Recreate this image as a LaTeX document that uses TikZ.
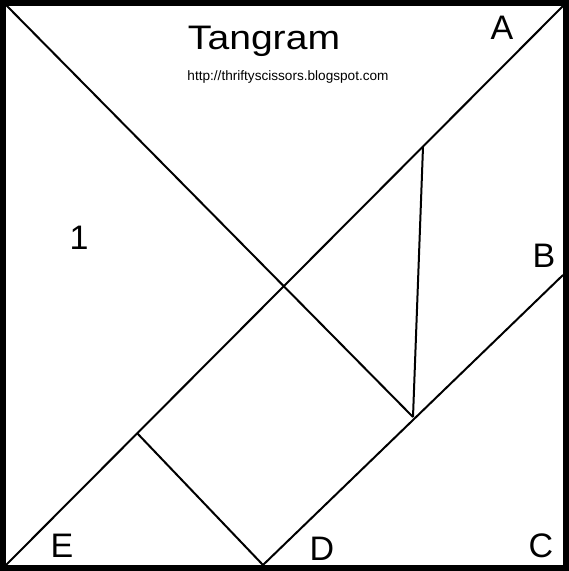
\documentclass[tikz,border=0pt]{standalone}
\usepackage{fontspec}
\setmainfont{Liberation Sans}
\usetikzlibrary{positioning}

\begin{document}
\begin{tikzpicture}[x=1pt,y=-1pt,inner sep=0pt,
    cut/.style={line width=2pt},
    letter/.style={font=\fontsize{34}{40}\selectfont}]
    \useasboundingbox (0,0) rectangle (569,571);
    \draw[line width=6pt] (3,2.5) rectangle (566,568);

    % Corners and cut points
    \coordinate (top_left) at (6,5);
    \coordinate (bottom_left) at (6,565);
    \coordinate (top_right) at (563,6);
    \coordinate (cut_b) at (563,275);
    \coordinate (cut_d) at (263,565);
    \coordinate (cut_p) at (413,417);
    \coordinate (cut_q) at (423,147);
    \coordinate (cut_e) at (137,433);

    % Title
    \node (title) at (264,41) {\scalebox{1.15}[1]{\fontsize{34}{38}\selectfont Tangram}};
    \node (url) at (288,77) {\fontsize{13.6}{16}\selectfont http://thriftyscissors.blogspot.com};

    % Labels
    \node[letter] (label_a) at (502,28) {A};
    \node[letter] (label_b) at (544,256) {B};
    \node[letter] (label_c) at (541,546) {C};
    \node[letter] (label_d) at (322,549) {D};
    \node[letter] (label_e) at (62,546) {E};
    \node[letter] (label_1) at (79,238) {1};

    \draw[cut] (top_left) -- (cut_p);
    \draw[cut] (bottom_left) -- (top_right);
    \draw[cut] (cut_b) -- (cut_d);
    \draw[cut] (cut_e) -- (cut_d);
    \draw[cut] (cut_q) -- (cut_p);
\end{tikzpicture}
\end{document}
